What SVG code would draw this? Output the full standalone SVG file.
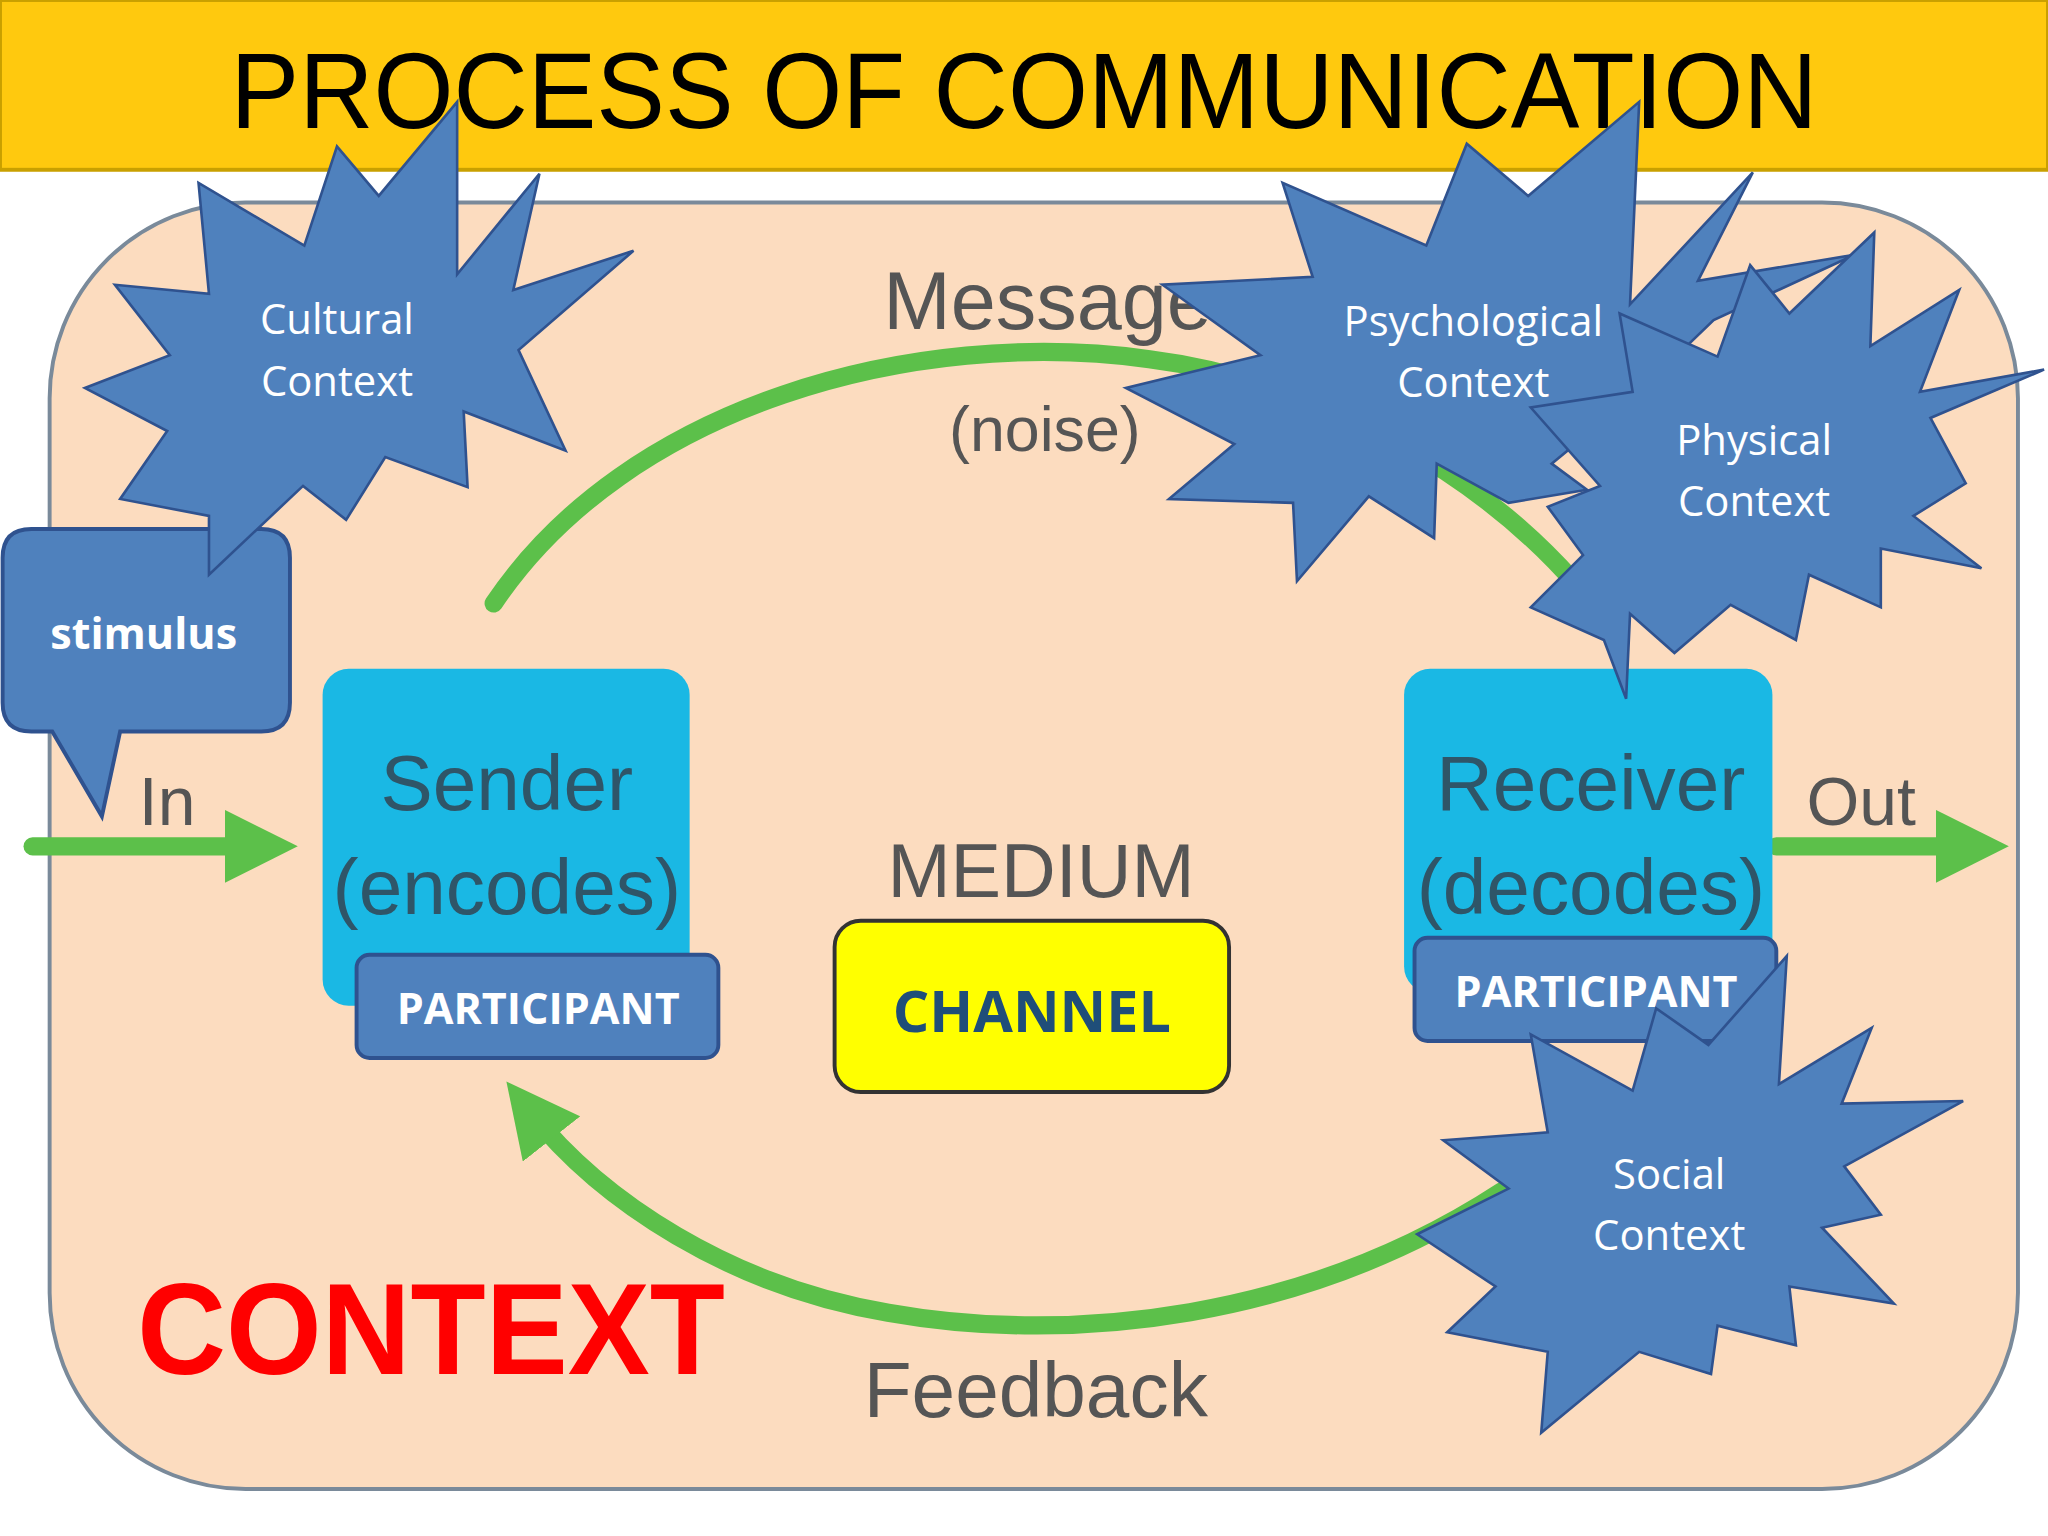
<svg xmlns="http://www.w3.org/2000/svg" width="2048" height="1536" viewBox="0 0 2048 1536">
<style>
.star{fill:#4F81BD;stroke:#2F528F;stroke-width:2}
.st{font-family:"Open Sans","Liberation Sans",sans-serif;font-size:32px;fill:#fff;text-anchor:middle}
.gray{font-family:"Liberation Sans",sans-serif;fill:#555;text-anchor:middle}
.box{fill:#1AB8E4}
.part{fill:#4F81BD;stroke:#2F528F;stroke-width:3}
.pt{font-family:"Open Sans","Liberation Sans",sans-serif;font-weight:bold;font-size:33px;fill:#fff;text-anchor:middle}
.arc{fill:none;stroke:#5CC04A;stroke-width:14;stroke-linecap:round}
</style>
<defs>
<marker id="ah" markerWidth="4" markerHeight="4" refX="2" refY="2" orient="auto" markerUnits="strokeWidth"><path d="M0,0L4,2L0,4z" fill="#5CC04A"/></marker>
</defs>
<rect width="2048" height="1536" fill="#fff"/>
<g transform="scale(1.30612)">
<g id="title"><rect x="0" y="0" width="1568" height="130" fill="#FFC90E" stroke="#C9A000" stroke-width="3"/>
<text x="784" y="98" font-family="Liberation Sans,sans-serif" font-size="82" text-anchor="middle" textLength="1215" lengthAdjust="spacingAndGlyphs">PROCESS OF COMMUNICATION</text></g>
<g id="context"><rect x="38" y="155" width="1507" height="985" rx="150" fill="#FCDCBF" stroke="#7A8A9A" stroke-width="3"/>
<text x="330" y="1052" font-family="Liberation Sans,sans-serif" font-weight="bold" font-size="100" fill="#F00" text-anchor="middle" textLength="450" lengthAdjust="spacingAndGlyphs">CONTEXT</text></g>
<g id="connectors">
<path class="arc" d="M378,462 C480,310 700,250 880,275 C1000,290 1150,360 1240,490"/>
<path class="arc" d="M1150,912 C1000,1010 820,1030 680,1005 C560,985 460,920 405,850" marker-end="url(#ah)"/>
<path class="arc" d="M25,648 L200,648" stroke-linecap="butt" marker-end="url(#ah)"/>
<path class="arc" d="M1360,648 L1510,648" stroke-linecap="butt" marker-end="url(#ah)"/>
</g>
<g id="labels">
<text class="gray" x="802" y="252" font-size="62">Message</text>
<text class="gray" x="800" y="345" font-size="48">(noise)</text>
<text class="gray" x="797" y="687" font-size="58">MEDIUM</text>
<text class="gray" x="793" y="1085" font-size="60">Feedback</text>
<text class="gray" x="128" y="632" font-size="52">In</text>
<text class="gray" x="1425" y="632" font-size="52">Out</text>
</g>
<g id="sender"><rect class="box" x="247" y="512" width="281" height="258" rx="20"/>
<text x="388" y="620" font-family="Liberation Sans,sans-serif" font-size="60" fill="#2F5568" text-anchor="middle">Sender</text>
<text x="388" y="700" font-family="Liberation Sans,sans-serif" font-size="60" fill="#2F5568" text-anchor="middle">(encodes)</text>
<rect class="part" x="273" y="731" width="277" height="79" rx="10"/><text class="pt" x="412" y="784">PARTICIPANT</text></g>
<g id="receiver"><rect class="box" x="1075" y="512" width="282" height="248" rx="20"/>
<text x="1218" y="620" font-family="Liberation Sans,sans-serif" font-size="60" fill="#2F5568" text-anchor="middle">Receiver</text>
<text x="1218" y="700" font-family="Liberation Sans,sans-serif" font-size="60" fill="#2F5568" text-anchor="middle">(decodes)</text>
<rect class="part" x="1083" y="718" width="277" height="79" rx="10"/><text class="pt" x="1222" y="771">PARTICIPANT</text></g>
<g id="channel"><rect x="639" y="705" width="302" height="131" rx="20" fill="#FFFF00" stroke="#333" stroke-width="3"/>
<text x="790" y="790" font-family="Open Sans,Liberation Sans,sans-serif" font-weight="bold" font-size="44" fill="#1F4E79" text-anchor="middle">CHANNEL</text></g>
<g id="stimulus"><path class="part" d="M24,405 H200 Q222,405 222,427 V538 Q222,560 200,560 H92 L78,625 L40,560 H24 Q2,560 2,538 V427 Q2,405 24,405 Z"/>
<text class="pt" x="110" y="497" font-size="36">stimulus</text></g>
<g id="cultural"><polygon class="star" points="350,78 350,210 413,133 393,222 485,192 397,268 433,345 355,315 358,373 295,350 265,398 232,372 160,440 160,395 92,382 128,330 65,297 130,272 88,218 160,225 152,140 233,188 258,112 290,150"/>
<text class="st" x="258" y="256">Cultural</text><text class="st" x="258" y="303">Context</text></g>
<g id="psychological"><polygon class="star" points="1255,78 1248,233 1342,132 1300,215 1420,195 1312,245 1255,300 1188,355 1215,375 1155,385 1100,355 1098,412 1048,380 993,445 990,385 895,382 945,340 862,297 965,272 890,218 1005,212 982,140 1092,188 1123,110 1170,150"/>
<text class="st" x="1128" y="257">Psychological</text><text class="st" x="1128" y="304">Context</text></g>
<g id="physical"><polygon class="star" points="1435,178 1432,265 1500,222 1470,300 1565,283 1478,320 1505,370 1465,395 1517,435 1440,420 1440,465 1385,440 1375,490 1325,463 1282,500 1248,470 1245,535 1228,490 1172,465 1212,425 1185,388 1225,372 1172,312 1250,300 1240,240 1315,273 1340,203 1370,240"/>
<text class="st" x="1343" y="348">Physical</text><text class="st" x="1343" y="395">Context</text></g>
<g id="social"><polygon class="star" points="1368,732 1362,830 1433,787 1410,845 1503,843 1412,893 1440,930 1395,940 1450,998 1370,985 1375,1030 1315,1015 1310,1052 1255,1035 1180,1097 1185,1035 1108,1020 1145,985 1085,945 1155,910 1105,873 1185,867 1172,792 1250,835 1268,772 1308,800"/>
<text class="st" x="1278" y="910">Social</text><text class="st" x="1278" y="957">Context</text></g>
</g>
</svg>
